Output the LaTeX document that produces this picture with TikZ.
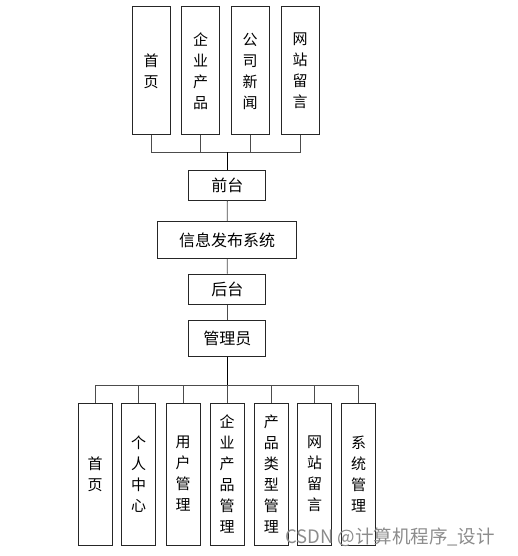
\documentclass[tikz,border=0pt]{standalone}
\usepackage{fontspec}
\newfontfamily\cjk{Noto Sans CJK SC}
\begin{document}
\begin{tikzpicture}[x=1pt,y=-1pt,
  box/.style={draw=black!85,line width=1pt,fill=white,inner sep=0pt,align=center,
    font=\cjk\fontsize{15}{21}\selectfont},
  tallbox/.style={box,minimum width=38pt,minimum height=128pt},
  lowbox/.style={box,minimum width=34pt,minimum height=142pt},
  flatbox/.style={box,minimum width=77pt,minimum height=30pt,font=\cjk\fontsize{16}{20}\selectfont},
  link/.style={draw=black!70,line width=0.9pt},
  trunk/.style={draw=black,line width=1.6pt}]
\useasboundingbox (0,0) rectangle (517,556);
% top row
\node[tallbox] (t1) at (151,71) {首\\页};
\node[tallbox] (t2) at (200.5,71) {企\\业\\产\\品};
\node[tallbox] (t3) at (250,71) {公\\司\\新\\闻};
\node[tallbox] (t4) at (300,71) {网\\站\\留\\言};
% middle column
\node[flatbox] (qt) at (227.3,185) {前台};
\node[flatbox,minimum width=139pt,minimum height=37pt] (sys) at (227.2,240) {信息发布系统};
\node[flatbox] (ht) at (227.3,289) {后台};
\node[flatbox,minimum height=36pt] (gly) at (227.3,338) {管理员};
% bottom row
\node[lowbox] (b1) at (95,474) {首\\页};
\node[lowbox] (b2) at (138.7,474) {个\\人\\中\\心};
\node[lowbox] (b3) at (183,474) {用\\户\\管\\理};
\node[lowbox] (b4) at (227.2,474) {企\\业\\产\\品\\管\\理};
\node[lowbox] (b5) at (271.3,474) {产\\品\\类\\型\\管\\理};
\node[lowbox] (b6) at (314.7,474) {网\\站\\留\\言};
\node[lowbox] (b7) at (358.7,474) {系\\统\\管\\理};
% buses
\coordinate (tb) at (227.3,152.3);
\coordinate (bb) at (227.3,385.7);
\draw[link] (t1.south) -- (t1.south |- tb) -- (t4.south |- tb) -- (t4.south);
\draw[link] (t2.south) -- (t2.south |- tb);
\draw[link] (t3.south) -- (t3.south |- tb);
\draw[trunk] (tb) -- (qt.north);
\draw[link] (qt.south) -- (sys.north);
\draw[link] (sys.south) -- (ht.north);
\draw[link] (ht.south) -- (gly.north);
\draw[trunk] (gly.south) -- (bb);
\draw[link] (b1.north) -- (b1.north |- bb) -- (b7.north |- bb) -- (b7.north);
\foreach \n in {b2,b3,b4,b5,b6} \draw[link] (\n.north) -- (\n.north |- bb);
% watermark
\node[text=black!45,font=\cjk\fontsize{18.5}{20}\selectfont,inner sep=0pt] (wm) at (390,537) {CSDN @计算机程序\_设计};
\end{tikzpicture}
\end{document}
